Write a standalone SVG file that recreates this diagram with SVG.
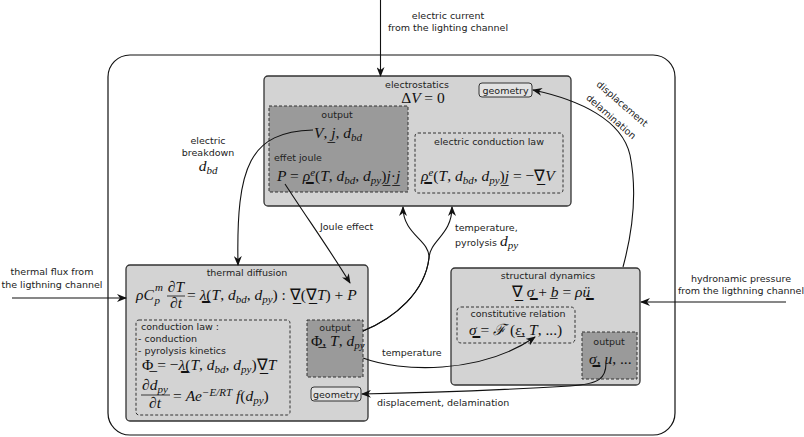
<svg xmlns="http://www.w3.org/2000/svg" width="804" height="437" viewBox="0 0 804 437">
<style>
.t{font-family:"DejaVu Sans",sans-serif;font-size:9.5px;fill:#222}
.m{font-family:"Liberation Serif",serif;font-style:italic;font-size:15.5px;fill:#111}
.s{font-size:11px}
.u{font-style:normal}
.sub{font-size:11px;baseline-shift:-3px}
.sup{font-size:11px;baseline-shift:5px}
.box{fill:#d3d3d3;stroke:#333;stroke-width:1.3}
.out{fill:#9a9a9a;stroke:#333;stroke-width:1;stroke-dasharray:3 2}
.law{fill:none;stroke:#333;stroke-width:1;stroke-dasharray:3 2}
.geo{fill:#e2e2e2;stroke:#333;stroke-width:1}
.c{fill:none;stroke:#111;stroke-width:1.1}
.bar{stroke:#111;stroke-width:0.8}
</style>
<defs>
<marker id="ah" viewBox="0 0 10 8" refX="9" refY="4" markerWidth="10" markerHeight="8" markerUnits="userSpaceOnUse" orient="auto">
<path d="M0,0 L10,4 L0,8 L3,4 z" fill="#111"/>
</marker>
</defs>
<rect width="804" height="437" fill="#fff"/>
<rect id="outer" x="108" y="55" width="567" height="380" rx="22" fill="#fff" stroke="#111" stroke-width="1.2"/>

<g id="electrostatics">
<rect class="box" x="264" y="76" width="307" height="130" rx="4"/>
<text class="t" x="417" y="88" text-anchor="middle">electrostatics</text>
<text class="m" x="423" y="103" text-anchor="middle" font-size="16"><tspan class="u">Δ</tspan>V <tspan class="u">= 0</tspan></text>
<g id="geometry-e">
<rect class="geo" x="479" y="83" width="53" height="14" rx="3"/>
<text class="t" x="505.5" y="94" text-anchor="middle">geometry</text>
</g>
<g id="output-e">
<rect class="out" x="269" y="106" width="139" height="86"/>
<text class="t" x="337" y="118" text-anchor="middle">output</text>
<text class="m" x="314" y="138" font-size="14.5">V<tspan class="u">, </tspan>j&#x332;<tspan class="u">, </tspan>d<tspan class="sub">bd</tspan></text>
<text class="t" x="274" y="161">effet joule</text>
<text class="m" x="277" y="181">P <tspan class="u">= </tspan>ρ&#x333;<tspan class="sup">e</tspan><tspan class="u">(</tspan>T<tspan class="u">, </tspan>d<tspan class="sub">bd</tspan><tspan class="u">, </tspan>d<tspan class="sub">py</tspan><tspan class="u">)</tspan>j&#x332;<tspan class="u">·</tspan>j&#x332;</text>
</g>
<g id="conduction-e">
<rect class="law" x="415" y="133" width="148" height="60" rx="3"/>
<text class="t" x="489" y="145" text-anchor="middle">electric conduction law</text>
<text class="m" x="421" y="181">ρ&#x333;<tspan class="sup">e</tspan><tspan class="u">(</tspan>T<tspan class="u">, </tspan>d<tspan class="sub">bd</tspan><tspan class="u">, </tspan>d<tspan class="sub">py</tspan><tspan class="u">)</tspan>j&#x332; <tspan class="u">= −∇&#x332;</tspan>V</text>
</g>
</g>

<g id="thermal">
<rect class="box" x="126" y="265" width="242" height="156" rx="4"/>
<text class="t" x="247" y="276" text-anchor="middle">thermal diffusion</text>
<text class="m" x="136" y="300">ρC</text>
<text class="m s" x="154.5" y="304">p</text>
<text class="m s" x="155" y="291">m</text>
<text class="m" x="176" y="292" text-anchor="middle">∂T</text>
<line class="bar" x1="167" y1="296" x2="185" y2="296"/>
<text class="m" x="176" y="308" text-anchor="middle">∂t</text>
<text class="m" x="187" y="300"><tspan class="u">= </tspan>λ&#x333;<tspan class="u">(</tspan>T<tspan class="u">, </tspan>d<tspan class="sub">bd</tspan><tspan class="u">, </tspan>d<tspan class="sub">py</tspan><tspan class="u">) : ∇&#x332;(∇&#x332;</tspan>T<tspan class="u">) + </tspan>P</text>
<g id="conduction-t">
<rect class="law" x="136" y="320" width="154" height="95" rx="3"/>
<text class="t" x="141" y="330">conduction law :</text>
<text class="t" x="138" y="342">- conduction</text>
<text class="t" x="138" y="354">- pyrolysis kinetics</text>
<text class="m" x="142" y="370"><tspan class="u">Φ&#x332; = −</tspan>λ&#x333;<tspan class="u">(</tspan>T<tspan class="u">, </tspan>d<tspan class="sub">bd</tspan><tspan class="u">, </tspan>d<tspan class="sub">py</tspan><tspan class="u">)∇&#x332;</tspan>T</text>
<text class="m" x="155" y="390" text-anchor="middle">∂d<tspan class="sub">py</tspan></text>
<line class="bar" x1="141" y1="395" x2="170" y2="395"/>
<text class="m" x="155" y="408" text-anchor="middle">∂t</text>
<text class="m" x="173" y="401"><tspan class="u">= </tspan>Ae<tspan class="sup">−E/RT</tspan> f<tspan class="u">(</tspan>d<tspan class="sub">py</tspan><tspan class="u">)</tspan></text>
</g>
<g id="output-t">
<rect class="out" x="307" y="320" width="56" height="57"/>
<text class="t" x="335" y="331" text-anchor="middle">output</text>
<text class="m" x="311" y="346" font-size="14"><tspan class="u">Φ&#x332;, </tspan>T<tspan class="u">, </tspan>d<tspan class="sub">py</tspan></text>
</g>
<g id="geometry-t">
<rect class="geo" x="311" y="387" width="50" height="14" rx="3"/>
<text class="t" x="336" y="398" text-anchor="middle">geometry</text>
</g>
</g>

<g id="structural">
<rect class="box" x="451" y="268" width="189" height="117" rx="4"/>
<text class="t" x="548" y="279" text-anchor="middle">structural dynamics</text>
<text class="m" x="551" y="297" text-anchor="middle"><tspan class="u">∇&#x332; </tspan>σ&#x333; <tspan class="u"> + </tspan>b&#x332; <tspan class="u"> = </tspan>ρü&#x333;</text>
<g id="constitutive">
<rect class="law" x="457" y="307" width="118" height="36" rx="4"/>
<text class="t" x="518" y="317" text-anchor="middle">constitutive relation</text>
<text class="m" x="469" y="335">σ&#x333; <tspan class="u">= </tspan>ℱ <tspan class="u">(</tspan>ε&#x332;<tspan class="u">, </tspan>T<tspan class="u">, ...)</tspan></text>
</g>
<g id="output-s">
<rect class="out" x="582" y="332" width="55" height="47"/>
<text class="t" x="609" y="345" text-anchor="middle">output</text>
<text class="m" x="589" y="364" font-size="14.5">σ&#x333;<tspan class="u">, </tspan>u<tspan class="u">, ...</tspan></text>
</g>
</g>

<g id="connectors">
<path class="c" d="M380.5,0 L380.5,76" marker-end="url(#ah)"/>
<path class="c" d="M12,298 L126,298" marker-end="url(#ah)"/>
<path class="c" d="M786,302 L641,302" marker-end="url(#ah)"/>
<path class="c" d="M313,130 C250,132 236,165 238,265" marker-end="url(#ah)"/>
<path class="c" d="M285,184 C305,215 330,250 350,283" marker-end="url(#ah)"/>
<path class="c" d="M363,331 C395,318 425,292 429,258 C430,240 403,235 403,207" marker-end="url(#ah)"/>
<path class="c" d="M363,331 C395,318 425,292 429,258 C430,240 452,235 452,207" marker-end="url(#ah)"/>
<path class="c" d="M363,358 C400,372 480,375 535,337" marker-end="url(#ah)"/>
<path class="c" d="M606,363 C606,378 600,384 570,386 C500,390 420,393 362,394" marker-end="url(#ah)"/>
<path class="c" d="M623,267 C633,230 637,190 630,155 C622,120 580,100 533,90" marker-end="url(#ah)"/>
</g>

<g id="labels">
<text class="t" x="448" y="19" text-anchor="middle">electric current</text>
<text class="t" x="448" y="31" text-anchor="middle">from the lighting channel</text>
<text class="t" x="52" y="275" text-anchor="middle">thermal flux from</text>
<text class="t" x="52" y="288" text-anchor="middle">the ligthning channel</text>
<text class="t" x="741" y="282" text-anchor="middle">hydronamic pressure</text>
<text class="t" x="741" y="294" text-anchor="middle">from the ligthning channel</text>
<text class="t" x="208" y="144" text-anchor="middle">electric</text>
<text class="t" x="208" y="156" text-anchor="middle">breakdown</text>
<text class="m" x="208" y="171" text-anchor="middle" font-size="14">d<tspan class="sub">bd</tspan></text>
<text class="t" x="320" y="230">Joule effect</text>
<text class="t" x="455" y="231">temperature,</text>
<text class="t" x="455" y="246">pyrolysis <tspan class="m">d<tspan class="sub">py</tspan></tspan></text>
<text class="t" x="382" y="356">temperature</text>
<text class="t" x="377" y="406">displacement, delamination</text>
<text class="t" x="0" y="3" text-anchor="middle" transform="translate(622,104) rotate(41)">displacement</text>
<text class="t" x="0" y="3" text-anchor="middle" transform="translate(611,117) rotate(41)">delamination</text>
</g>
</svg>
